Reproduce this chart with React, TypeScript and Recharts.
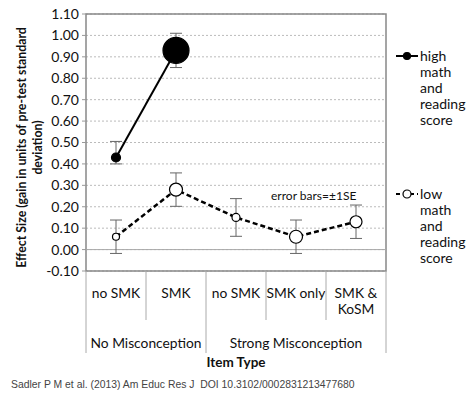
import React from 'react';
import { ComposedChart, Line, XAxis, YAxis, CartesianGrid, ErrorBar, ReferenceLine, ReferenceArea } from 'recharts';

const categories = ['no SMK', 'SMK', 'no SMK', 'SMK only', 'SMK & KoSM'];
const groups = ['No Misconception', 'No Misconception', 'Strong Misconception', 'Strong Misconception', 'Strong Misconception'];
const highValues: (number | null)[] = [0.43, 0.93, null, null, null];
const highErrors: ([number, number] | null)[] = [[0.03, 0.075], [0.08, 0.08], null, null, null];
const highSizes = [4.5, 13, 0, 0, 0];
const lowValues = [0.06, 0.28, 0.15, 0.06, 0.13];
const lowErrors = [0.078, 0.078, 0.088, 0.078, 0.078];
const lowSizes = [3.5, 6.5, 4, 6.5, 6];
const yTicks = [-0.1, 0, 0.1, 0.2, 0.3, 0.4, 0.5, 0.6, 0.7, 0.8, 0.9, 1.0, 1.1];
const seriesNames = ['high math and reading score', 'low math and reading score'];
const yTitle = ['Effect Size (gain in units of pre-test standard', 'deviation)'];
const xTitle = 'Item Type';
const errorNote = 'error bars=±1SE';
const footer = 'Sadler P M et al. (2013) Am Educ Res J  DOI 10.3102/0002831213477680';

const data = categories.map((c, i) => ({
  key: String(i),
  cat: c,
  high: highValues[i],
  highErr: highErrors[i],
  low: lowValues[i],
  lowErr: lowErrors[i],
}));

const FONT = 'Lato, "Open Sans", sans-serif';

const CatTick = (props: any) => {
  const { x, y, payload, index } = props;
  const off = payload && payload.offset ? payload.offset : 30;
  const label = categories[index];
  const parts = label === 'SMK & KoSM' ? ['SMK &', 'KoSM'] : [label];
  const g = groups[index];
  const first = groups.indexOf(g);
  const last = groups.lastIndexOf(g);
  const isGroupEnd = index === last;
  const els: any[] = [];
  parts.forEach((p, k) => {
    els.push(
      <text key={'t' + k} x={x} y={y + 27 + k * 16} textAnchor="middle" fontFamily={FONT} fontSize={13.8} fill="#111">{p}</text>
    );
  });
  els.push(<line key="sep" x1={x + off} x2={x + off} y1={y} y2={y + (isGroupEnd ? 82 : 49)} stroke="#aaa" strokeWidth={1} />);
  if (index === 0) {
    els.push(<line key="left" x1={x - off} x2={x - off} y1={y} y2={y + 82} stroke="#aaa" strokeWidth={1} />);
  }
  if (index === first) {
    els.push(
      <text key="g" x={x + (last - first) * off} y={y + 77} textAnchor="middle" fontFamily={FONT} fontSize={13.8} fill="#111">{g}</text>
    );
  }
  return <g>{els}</g>;
};

const makeDot = (sizes: number[], filled: boolean) => (props: any) => {
  const { cx, cy, index } = props;
  if (cx == null || cy == null || props.value == null) return <g key={'d' + index} />;
  return (
    <circle key={'d' + index} cx={cx} cy={cy} r={sizes[index]} fill={filled ? '#000' : '#fff'} stroke="#000" strokeWidth={1.2} />
  );
};

const LegendIcon = ({ filled }: { filled: boolean }) => (
  <svg width={24} height={12} style={{ position: 'absolute', left: 0, top: 2 }}>
    <line x1={1} x2={23} y1={6} y2={6} stroke="#000" strokeWidth={2} strokeDasharray={filled ? undefined : '4 3'} />
    <circle cx={12} cy={6} r={filled ? 3.5 : 4} fill={filled ? '#000' : '#fff'} stroke="#000" strokeWidth={1.2} />
  </svg>
);

export default function App() {
  return (
    <div style={{ position: 'absolute', left: 0, top: 0, width: 474, height: 399, background: '#fff' }}>
      <ComposedChart width={474} height={399} data={data} margin={{ top: 14, right: 88, left: 0, bottom: 0 }}>
        <CartesianGrid horizontal vertical={false} stroke="#bbb" strokeDasharray="2 2" />
        <ReferenceLine y={0} stroke="#aaa" strokeWidth={1} />
        <ReferenceArea y1={-0.1} y2={1.1} fill="none" stroke="#888" strokeWidth={1.5} />
        <XAxis
          dataKey="key"
          type="category"
          scale="band"
          height={128}
          axisLine={false}
          tickLine={false}
          tickSize={0}
          tickMargin={0}
          interval={0}
          tick={<CatTick />}
          label={(p: any) => {
            const vb = p.viewBox || {};
            return (
              <text x={(vb.x || 86) + (vb.width || 300) / 2} y={(vb.y || 271) + 96} textAnchor="middle" fontFamily={FONT} fontWeight="bold" fontSize={13.5} fill="#111">{xTitle}</text>
            );
          }}
        />
        <YAxis
          type="number"
          domain={[-0.1, 1.1]}
          ticks={yTicks}
          width={86}
          axisLine={false}
          tickLine={{ stroke: '#999' }}
          tickSize={4}
          tickMargin={3}
          tickFormatter={(v: number) => v.toFixed(2)}
          tick={{ fontFamily: FONT, fontSize: 14, fill: '#111' }}
          interval={0}
          label={(p: any) => {
            const vb = p.viewBox || {};
            const cy = (vb.y || 14) + (vb.height || 257) / 2 + 5;
            return (
              <g>
                {yTitle.map((t, i) => (
                  <text key={i} x={0} y={0} transform={`translate(${26 + i * 16}, ${cy}) rotate(-90)`} textAnchor="middle" fontFamily={FONT} fontWeight="bold" fontSize={12.3} fill="#111">{t}</text>
                ))}
              </g>
            );
          }}
        />
        <Line
          dataKey="high"
          name={seriesNames[0]}
          stroke="#000"
          strokeWidth={2}
          isAnimationActive={false}
          connectNulls={false}
          dot={makeDot(highSizes, true)}
          activeDot={false}
        >
          <ErrorBar dataKey="highErr" width={6} stroke="#666" strokeWidth={1} direction="y" />
        </Line>
        <Line
          dataKey="low"
          name={seriesNames[1]}
          stroke="#000"
          strokeWidth={2.5}
          strokeDasharray="5 3"
          isAnimationActive={false}
          dot={makeDot(lowSizes, false)}
          activeDot={false}
        >
          <ErrorBar dataKey="lowErr" width={6} stroke="#666" strokeWidth={1} direction="y" />
        </Line>
      </ComposedChart>
      <div style={{ position: 'absolute', left: 271, top: 188, fontFamily: FONT, fontSize: 12, color: '#111', whiteSpace: 'nowrap' }}>{errorNote}</div>
      {seriesNames.map((n, si) => (
        <div key={si} style={{ position: 'absolute', left: 395, top: si === 0 ? 48 : 186, width: 80 }}>
          <LegendIcon filled={si === 0} />
          <div style={{ marginLeft: 25, fontFamily: FONT, fontSize: 14, lineHeight: '16px', color: '#111' }}>
            {n.split(' ').map((w, k) => (
              <div key={k}>{w}</div>
            ))}
          </div>
        </div>
      ))}
      <div style={{ position: 'absolute', left: 11, top: 379, fontFamily: '"Liberation Sans", Arial, sans-serif', fontSize: 10.4, color: '#444', whiteSpace: 'pre' }}>{footer}</div>
    </div>
  );
}
